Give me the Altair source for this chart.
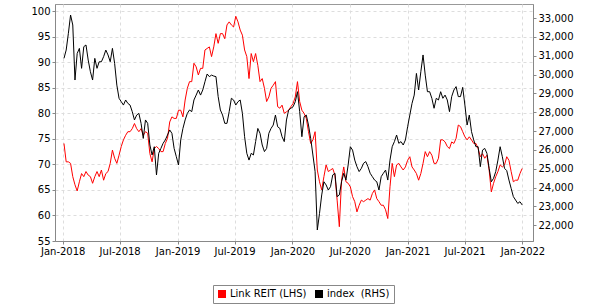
import altair as alt
import pandas as pd

# weekly sampling (Fridays) from 5 Jan 2018 to 31 Dec 2021
dates = pd.date_range("2018-01-05", periods=209, freq="7D").strftime("%Y-%m-%d").tolist()

link_reit = [
    74.1, 70.5, 70.5, 70.2, 67.6, 66.0, 64.8, 66.6, 68.2, 67.6,
    68.6, 67.9, 67.6, 66.3, 67.6, 68.6, 67.6, 68.9, 66.9, 68.2,
    68.6, 70.2, 72.8, 71.2, 70.2, 71.8, 73.5, 74.8, 75.7, 76.4,
    76.4, 77.0, 78.0, 77.0, 76.4, 77.0, 75.7, 76.4, 76.1, 72.1,
    70.5, 73.1, 73.5, 73.1, 72.5, 72.5, 74.1, 75.1, 78.3, 79.3,
    79.0, 79.0, 80.6, 80.6, 79.3, 82.6, 84.9, 86.2, 86.2, 89.8,
    89.1, 87.5, 88.8, 88.8, 92.4, 92.7, 93.0, 91.1, 93.0, 95.6,
    93.7, 95.6, 95.6, 94.6, 97.3, 97.9, 97.3, 96.9, 99.0, 97.9,
    96.3, 95.3, 92.4, 91.1, 86.8, 91.7, 90.1, 91.7, 89.4, 86.2,
    86.8, 84.9, 82.3, 83.2, 84.9, 85.5, 86.2, 81.3, 81.0, 81.6,
    80.0, 80.3, 80.6, 81.3, 81.9, 83.2, 86.2, 82.3, 80.6, 80.0,
    79.0, 76.4, 74.1, 74.8, 76.4, 68.9, 66.6, 65.0, 67.6, 69.9,
    68.6, 68.9, 69.2, 67.9, 63.0, 57.8, 66.9, 69.5, 66.6, 66.3,
    65.6, 63.7, 62.7, 60.7, 62.0, 63.0, 62.7, 63.0, 63.3, 63.0,
    64.3, 65.0, 63.3, 62.7, 62.0, 62.0, 61.1, 59.4, 65.6, 70.2,
    67.6, 69.9, 70.2, 69.5, 68.9, 69.5, 70.8, 71.5, 69.5, 68.9,
    68.2, 66.9, 68.2, 70.2, 72.5, 71.5, 72.5, 71.8, 70.2, 70.2,
    71.2, 74.8, 74.8, 74.4, 73.5, 73.1, 74.4, 74.1, 75.1, 77.7,
    77.4, 76.4, 75.4, 74.8, 75.4, 74.8, 74.1, 74.1, 73.1, 71.5,
    72.1, 71.2, 71.8, 68.9, 64.6, 66.3, 67.6, 68.6, 69.9, 69.5,
    69.9, 71.5, 70.8, 68.6, 66.6, 66.9, 66.9, 68.2, 69.2,
]

index_rhs = [
    30860, 31300, 32190, 33160, 32630, 29710, 31120, 31390, 30330, 31480,
    31570, 30770, 30150, 29710, 30860, 30330, 30680, 30680, 30950, 31300,
    31040, 30680, 31390, 30590, 29440, 28740, 28560, 28380, 28650, 28470,
    28380, 28030, 27590, 27850, 27940, 27410, 26610, 27590, 27410, 26260,
    25730, 26170, 24670, 25820, 26080, 26350, 26530, 26790, 27060, 26880,
    26080, 25640, 25200, 26530, 27140, 27590, 27940, 28120, 28030, 28650,
    28910, 29180, 28910, 29180, 29620, 30030, 29890, 29970, 29920, 29890,
    28830, 28120, 27850, 27410, 27410, 28030, 28740, 28650, 28380, 28560,
    28650, 27940, 26700, 25820, 25460, 25820, 25730, 26440, 27140, 26880,
    26260, 25910, 26080, 26880, 27140, 27320, 27850, 27230, 27140, 26700,
    26440, 27590, 28120, 28210, 28290, 28560, 29090, 28030, 26700, 27760,
    27850, 27320, 26610, 25730, 24850, 21750, 22630, 23610, 24310, 24140,
    23870, 24050, 24670, 24760, 23520, 23610, 24310, 24760, 24400, 25200,
    26170, 25990, 25460, 25110, 24850, 25020, 25290, 25380, 25110, 24760,
    24580, 24400, 24310, 23870, 24580, 24760, 24930, 24400, 25460, 26170,
    26440, 26790, 26350, 26440, 26260, 26530, 27230, 27850, 28470, 28910,
    30060, 29180, 30150, 31040, 29970, 29090, 29090, 28740, 28210, 28740,
    28650, 29090, 28740, 28910, 28650, 28030, 28830, 29180, 29360, 28830,
    28830, 29320, 28380, 27320, 27850, 26970, 26530, 26170, 26170, 25110,
    25990, 26080, 25820, 25020, 24310, 24490, 24850, 25460, 26170, 25640,
    25020, 24900, 24400, 23960, 23520, 23340, 23160, 23250, 23080,
]

series_names = ["Link REIT (LHS)", "index\u00a0\u00a0(RHS)"]
series_colors = ["#ff0000", "#000000"]
left_ticks = [55, 60, 65, 70, 75, 80, 85, 90, 95, 100]
right_ticks = [22000, 23000, 24000, 25000, 26000, 27000, 28000, 29000, 30000, 31000, 32000, 33000]
x_tick_months = [(2018, 1), (2018, 7), (2019, 1), (2019, 7), (2020, 1), (2020, 7), (2021, 1), (2021, 7), (2022, 1)]

FONT = "DejaVu Sans"

df_red = pd.DataFrame({"date": dates, "value": link_reit})
df_blk = pd.DataFrame({"date": dates, "value": index_rhs})
df_leg = pd.DataFrame({"series": series_names})

x_enc = alt.X(
    "date:T",
    scale=alt.Scale(
        type="utc",
        domain=[
            alt.DateTime(year=2017, month=12, date=7, hours=12, utc=True),
            alt.DateTime(year=2022, month=2, date=3, hours=10, utc=True),
        ],
    ),
    axis=alt.Axis(
        values=[alt.DateTime(year=y, month=m, date=1, utc=True) for y, m in x_tick_months],
        labelExpr="utcFormat(datum.value, '%b-%Y')",
        title=None,
        grid=True,
        labelFlush=False,
        labelOverlap=False,
    ),
)

red = alt.Chart(df_red).mark_line(color=series_colors[0], strokeWidth=1).encode(
    x=x_enc,
    y=alt.Y(
        "value:Q",
        scale=alt.Scale(domain=[55, 101.4], nice=False, zero=False),
        axis=alt.Axis(orient="left", values=left_ticks, title=None, grid=True),
    ),
)

blk = alt.Chart(df_blk).mark_line(color=series_colors[1], strokeWidth=1).encode(
    x=x_enc,
    y=alt.Y(
        "value:Q",
        scale=alt.Scale(domain=[21165, 33745], nice=False, zero=False),
        axis=alt.Axis(orient="right", values=right_ticks, format=",d", title=None, grid=False),
    ),
)

leg = alt.Chart(df_leg).mark_point(shape="square", filled=True, size=64, opacity=1).encode(
    x=alt.value(-300),
    y=alt.value(-300),
    color=alt.Color(
        "series:N",
        scale=alt.Scale(domain=series_names, range=series_colors),
        sort=series_names,
        legend=alt.Legend(
            title=None,
            orient="none",
            legendX=158,
            legendY=281,
            direction="horizontal",
            symbolType="square",
            symbolSize=64,
            symbolStrokeWidth=0,
            symbolOpacity=1,
            labelFont=FONT,
            labelFontSize=10,
            labelColor="#000000",
            labelOffset=3,
            columnPadding=7,
            padding=4,
            strokeColor="#888888",
            fillColor="#ffffff",
            cornerRadius=0,
        ),
    ),
)

chart = (
    alt.layer(red, blk, leg)
    .resolve_scale(y="independent")
    .properties(
        width=478,
        height=237,
        autosize=alt.AutoSizeParams(type="none"),
        padding={"left": 55, "top": 4, "right": 70, "bottom": 63},
        background="#ffffff",
    )
    .configure_view(stroke="#999999")
    .configure_axis(
        labelFont=FONT,
        labelFontSize=10,
        labelColor="#000000",
        domainColor="#888888",
        tickColor="#888888",
        tickSize=3,
        labelPadding=2,
        gridColor="#dddddd",
        gridDash=[3, 3],
    )
)

chart.save("out.html", embed_options={"renderer": "svg", "actions": False})
